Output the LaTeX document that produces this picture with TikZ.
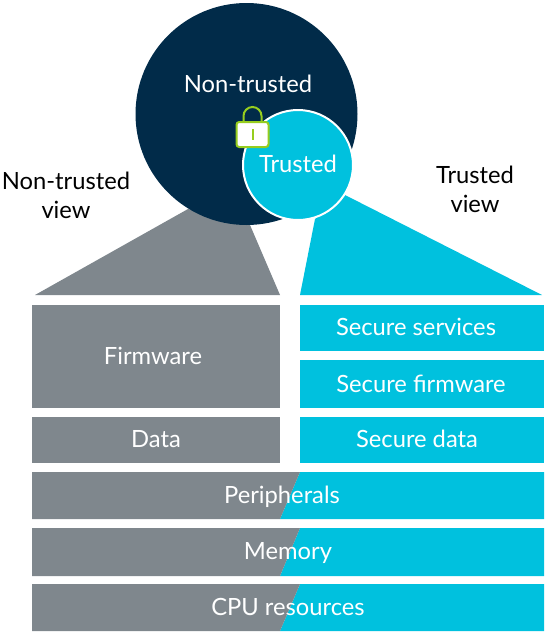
\documentclass[tikz,border=0pt]{standalone}
\usepackage{fontspec}
\setmainfont{Lato}
\usepackage{xcolor}
\usepackage{tikz}
\usetikzlibrary{positioning}
\definecolor{mynavy}{RGB}{1,43,73}
\definecolor{mycyan}{RGB}{0,193,222}
\definecolor{mygray}{RGB}{127,135,141}
\definecolor{mylime}{RGB}{150,205,30}
\tikzset{
  grayfill/.style={fill=mygray, draw=none},
  cyanfill/.style={fill=mycyan, draw=none},
  whitelabel/.style={text=white, font=\fontsize{17.8}{20}\selectfont, inner sep=0pt},
  viewlabel/.style={text=black, font=\fontsize{17.8}{21.6}\selectfont, align=center, inner sep=0pt},
  lockline/.style={draw=mylime, line width=1.5pt}
}
\begin{document}
\begin{tikzpicture}[x=0.75pt, y=-0.75pt]
  \useasboundingbox (0,0) rectangle (546,632);

  % Funnels below the circles
  \fill[grayfill] (35,295) -- (188,209) -- (250,225) -- (280,295) -- cycle;
  \fill[cyanfill] (300,295) -- (315,219) -- (345,195) -- (542,295) -- cycle;

  % Circles
  \fill[mynavy] (246.5,114) circle (111);
  \draw[white, line width=1.5pt, fill=mycyan] (298,165) circle (55);
  \node[whitelabel] (nontrusted) at (248,84) {Non-trusted};
  \node[whitelabel] (trusted) at (298,164) {Trusted};

  % Lock
  \draw[lockline] (243.5,122) -- (243.5,116) arc (180:360:9) -- (261.5,122);
  \draw[lockline, fill=white, rounded corners=2pt] (236.5,122) rectangle (268.5,147);
  \draw[lockline, line width=1pt] (253,129) -- (253,140);

  % View labels
  \node[viewlabel] (nontrustedview) at (66,195) {Non-trusted\\view};
  \node[viewlabel] (trustedview) at (475,189) {Trusted\\view};

  % Left column
  \fill[grayfill] (32,305) rectangle (280,408);
  \node[whitelabel] (firmware) at (153,356) {Firmware};
  \fill[grayfill] (32,417) rectangle (280,463);
  \node[whitelabel] (data) at (156,439) {Data};

  % Right column
  \fill[cyanfill] (300,305) rectangle (544,351);
  \node[whitelabel] (services) at (416,327) {Secure services};
  \fill[cyanfill] (300,360) rectangle (544,408);
  \node[whitelabel] (securefirmware) at (421,384) {Secure firmware};
  \fill[cyanfill] (300,417) rectangle (544,463);
  \node[whitelabel] (securedata) at (417,439) {Secure data};

  % Shared bars
  \foreach \ytop/\ybot in {472/519, 528/576, 584/631} {
    \fill[cyanfill] (280,\ybot) -- (300,\ytop) -- (544,\ytop) -- (544,\ybot) -- cycle;
    \fill[grayfill] (32,\ytop) -- (300,\ytop) -- (280,\ybot) -- (32,\ybot) -- cycle;
  }
  \node[whitelabel] (peripherals) at (282,497) {Peripherals};
  \node[whitelabel] (memory) at (288,553) {Memory};
  \node[whitelabel] (cpu) at (288,607) {CPU resources};
\end{tikzpicture}
\end{document}
